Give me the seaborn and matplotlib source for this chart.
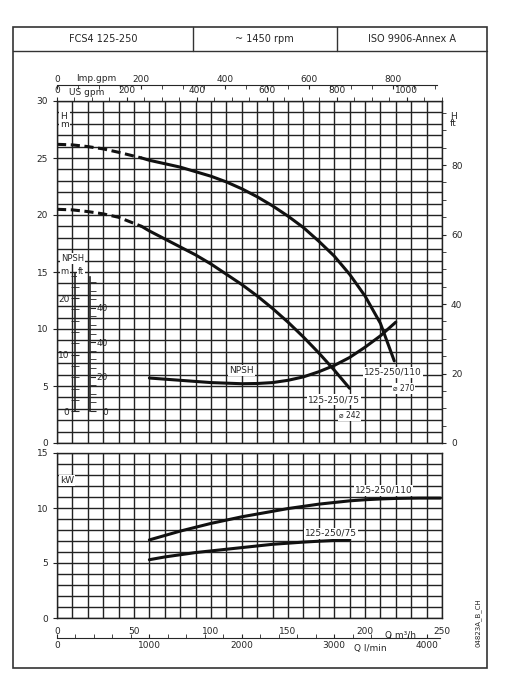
import matplotlib
matplotlib.use("Agg")
import matplotlib.pyplot as plt
import matplotlib.ticker as mt
import seaborn as sns

sns.set_style("white")
plt.rcParams['font.family'] = ['DejaVu Sans']

# ---- data ----
q_dash = [0, 10, 20, 30, 40, 55]
h110_dash = [26.2, 26.15, 26.0, 25.8, 25.5, 25.0]
h75_dash = [20.5, 20.45, 20.3, 20.1, 19.8, 19.0]
q110 = [55, 60, 70, 80, 90, 100, 110, 120, 130, 140, 150, 160, 170, 180, 190, 200, 210, 219]
h110 = [25.0, 24.8, 24.5, 24.2, 23.8, 23.4, 22.9, 22.3, 21.6, 20.8, 19.9, 18.9, 17.7, 16.4, 14.8, 12.9, 10.5, 7.2]
q75 = [55, 60, 70, 80, 90, 100, 110, 120, 130, 140, 150, 160, 170, 180, 190]
h75 = [19.0, 18.6, 17.9, 17.2, 16.5, 15.7, 14.8, 13.9, 12.9, 11.8, 10.6, 9.3, 7.9, 6.4, 4.8]
q_npsh = [60, 70, 80, 90, 100, 110, 120, 130, 140, 150, 160, 170, 180, 190, 200, 210, 220]
h_npsh = [5.7, 5.6, 5.5, 5.4, 5.3, 5.25, 5.2, 5.22, 5.3, 5.5, 5.8, 6.25, 6.8, 7.5, 8.4, 9.4, 10.6]
qp110 = [60, 70, 80, 90, 100, 110, 120, 130, 140, 150, 160, 170, 180, 190, 200, 210, 220, 235, 249]
p110 = [7.1, 7.5, 7.9, 8.25, 8.6, 8.9, 9.2, 9.45, 9.7, 9.95, 10.15, 10.35, 10.5, 10.65, 10.75, 10.82, 10.87, 10.9, 10.9]
qp75 = [60, 70, 80, 90, 100, 110, 120, 130, 140, 150, 160, 170, 180, 190]
p75 = [5.3, 5.55, 5.75, 5.95, 6.1, 6.25, 6.4, 6.55, 6.7, 6.8, 6.9, 6.98, 7.05, 7.1]
header = ["FCS4 125-250", "~ 1450 rpm", "ISO 9906-Annex A"]

fs = 6.5
fig = plt.figure(figsize=(5.17, 7.0), dpi=100)

fig.add_artist(plt.Rectangle((0.025, 0.046), 0.917, 0.915, transform=fig.transFigure,
                             fill=False, lw=1.2, color='#333'))
fig.add_artist(plt.Line2D([0.025, 0.942], [0.927, 0.927], transform=fig.transFigure, lw=1, color='#333'))
for xv in (0.373, 0.652):
    fig.add_artist(plt.Line2D([xv, xv], [0.927, 0.961], transform=fig.transFigure, lw=1, color='#333'))
for xc, t in zip((0.199, 0.512, 0.797), header):
    fig.text(xc, 0.944, t, ha='center', va='center', fontsize=7)

L, W = 57/517, 385/517
axh = fig.add_axes([L, (700-443)/700, W, 342/700])
axp = fig.add_axes([L, (700-618)/700, W, 165/700])

def style(ax, ymax):
    ax.set_xlim(0, 250)
    ax.set_ylim(0, ymax)
    ax.xaxis.set_minor_locator(mt.MultipleLocator(10))
    ax.yaxis.set_minor_locator(mt.MultipleLocator(1))
    ax.yaxis.set_major_locator(mt.MultipleLocator(5))
    ax.xaxis.set_major_locator(mt.MultipleLocator(50))
    ax.grid(which='both', color='#222', lw=1.0)
    for s in ax.spines.values():
        s.set_color('#222'); s.set_linewidth(1.0)
    ax.tick_params(which='major', labelsize=fs, length=3, color='#222', left=True)
    ax.tick_params(which='minor', length=0)
    ax.set_xlabel(''); ax.set_ylabel('')

lw = 2.2
kw = dict(color='#111', lw=lw, solid_capstyle='round')
sns.lineplot(x=q_dash, y=h110_dash, ax=axh, color='#111', lw=lw, linestyle=(0, (3, 1.5)))
sns.lineplot(x=q_dash, y=h75_dash, ax=axh, color='#111', lw=lw, linestyle=(0, (3, 1.5)))
sns.lineplot(x=q110, y=h110, ax=axh, **kw)
sns.lineplot(x=q75, y=h75, ax=axh, **kw)
sns.lineplot(x=q_npsh, y=h_npsh, ax=axh, **kw)
style(axh, 30)
axh.set_xticklabels([])
axh.tick_params(axis='x', which='both', bottom=False)

sns.lineplot(x=qp110, y=p110, ax=axp, **kw)
sns.lineplot(x=qp75, y=p75, ax=axp, **kw)
style(axp, 15)
axp.set_xticks([0, 50, 100, 150, 200, 250])
axp.text(223, -1.6, "Q m³/h", ha='center', va='center', fontsize=fs)

bb = dict(facecolor='white', edgecolor='none', pad=0.8)
axh.text(2, 28.3, "H\nm", fontsize=fs, va='center', linespacing=0.9, bbox=bb)
axp.text(2, 12.5, "kW", fontsize=fs, va='center', bbox=bb)
axh.text(120, 6.0, "NPSH", fontsize=fs, ha='center', va='bottom', bbox=bb)
axh.text(180, 4.2, "125-250/75", fontsize=fs, ha='center', va='top', bbox=bb)
axh.text(190, 2.8, "⌀ 242", fontsize=fs-1, ha='center', va='top', bbox=bb)
axh.text(218, 6.6, "125-250/110", fontsize=fs, ha='center', va='top', bbox=bb)
axh.text(225, 5.2, "⌀ 270", fontsize=fs-1, ha='center', va='top', bbox=bb)
axp.text(212, 11.2, "125-250/110", fontsize=fs, ha='center', va='bottom', bbox=bb)
axp.text(178, 7.3, "125-250/75", fontsize=fs, ha='center', va='bottom', bbox=bb)

sec = axh.secondary_yaxis('right', functions=(lambda m: m*3.2808, lambda f: f/3.2808))
sec.set_yticks([0, 20, 40, 60, 80])
sec.yaxis.set_minor_locator(mt.MultipleLocator(5))
sec.tick_params(which='both', labelsize=fs, direction='out', length=3)
sec.spines['right'].set_visible(False)
axh.text(1.02, 0.945, "H\nft", transform=axh.transAxes, fontsize=fs, va='center', linespacing=0.8)

us = axh.secondary_xaxis('top', functions=(lambda q: q/0.2271, lambda g: g*0.2271))
us.set_xticks([0, 200, 400, 600, 800, 1000])
us.xaxis.set_minor_locator(mt.MultipleLocator(50))
us.tick_params(which='both', labelsize=fs, length=3, pad=1)
us.spines['top'].set_visible(False)
axh.text(0.03, 1.012, "US gpm", transform=axh.transAxes, fontsize=fs, va='bottom')
imp = axh.secondary_xaxis(1.047, functions=(lambda q: q/0.2728, lambda g: g*0.2728))
imp.set_xticks([0, 200, 400, 600, 800])
imp.xaxis.set_minor_locator(mt.FixedLocator(list(range(0, 901, 50))))
imp.tick_params(which='both', labelsize=fs, length=3, pad=1, direction='in')
imp.spines['top'].set_bounds(0, 905)
axh.text(0.05, 1.054, "Imp.gpm", transform=axh.transAxes, fontsize=fs, va='bottom')

lm = axp.secondary_xaxis(-0.12, functions=(lambda q: q/0.06, lambda l: l*0.06))
lm.set_xticks([0, 1000, 2000, 3000, 4000])
lm.xaxis.set_minor_locator(mt.FixedLocator(list(range(0, 4101, 200))))
lm.tick_params(which='both', labelsize=fs, length=3, direction='in', pad=2)
lm.spines['bottom'].set_bounds(0, 4150)
axp.text(0.815, -0.185, "Q l/min", transform=axp.transAxes, fontsize=fs, ha='center', va='center')

# NPSH scales
f_m = (lambda h: (h-2.8)*2.02, lambda n: n/2.02+2.8)
nm = axh.secondary_yaxis(0.047, functions=f_m)
nm.set_yticks([0, 10, 20])
nm.yaxis.set_minor_locator(mt.FixedLocator(list(range(0, 25, 2))))
nm.tick_params(which='both', labelsize=fs, direction='inout', length=6, pad=1)
nm.spines['left'].set_bounds(0, 24.5)
nm.spines['left'].set_linewidth(1.2)
for t in nm.get_yticklabels():
    t.set_bbox(bb)
f_ft = (lambda h: (h-2.8)*2.02*3.2808, lambda n: n/3.2808/2.02+2.8)
nf = axh.secondary_yaxis(0.086, functions=f_ft)
nf.set_yticks([0, 20, 40, 60])
nf.set_yticklabels(['0', '20', '40', '40'])
nf.yaxis.set_minor_locator(mt.FixedLocator(list(range(0, 76, 5))))
nf.tick_params(which='both', labelsize=fs, direction='in', length=4, pad=-13)
nf.spines['left'].set_bounds(0, 78)
nf.spines['left'].set_linewidth(1.2)
for t in nf.get_yticklabels():
    t.set_bbox(bb)
axh.text(10, 16.2, "NPSH", fontsize=fs-0.5, ha='center', va='center', bbox=bb)
axh.text(5, 15.0, "m", fontsize=fs-0.5, ha='center', va='center', bbox=bb)
axh.text(15.5, 15.0, "ft", fontsize=fs-0.5, ha='center', va='center', bbox=bb)

fig.text(0.925, 0.11, "04823A_B_CH", rotation=90, fontsize=5, ha='center', va='center')

fig.savefig("out.png", dpi=100)
